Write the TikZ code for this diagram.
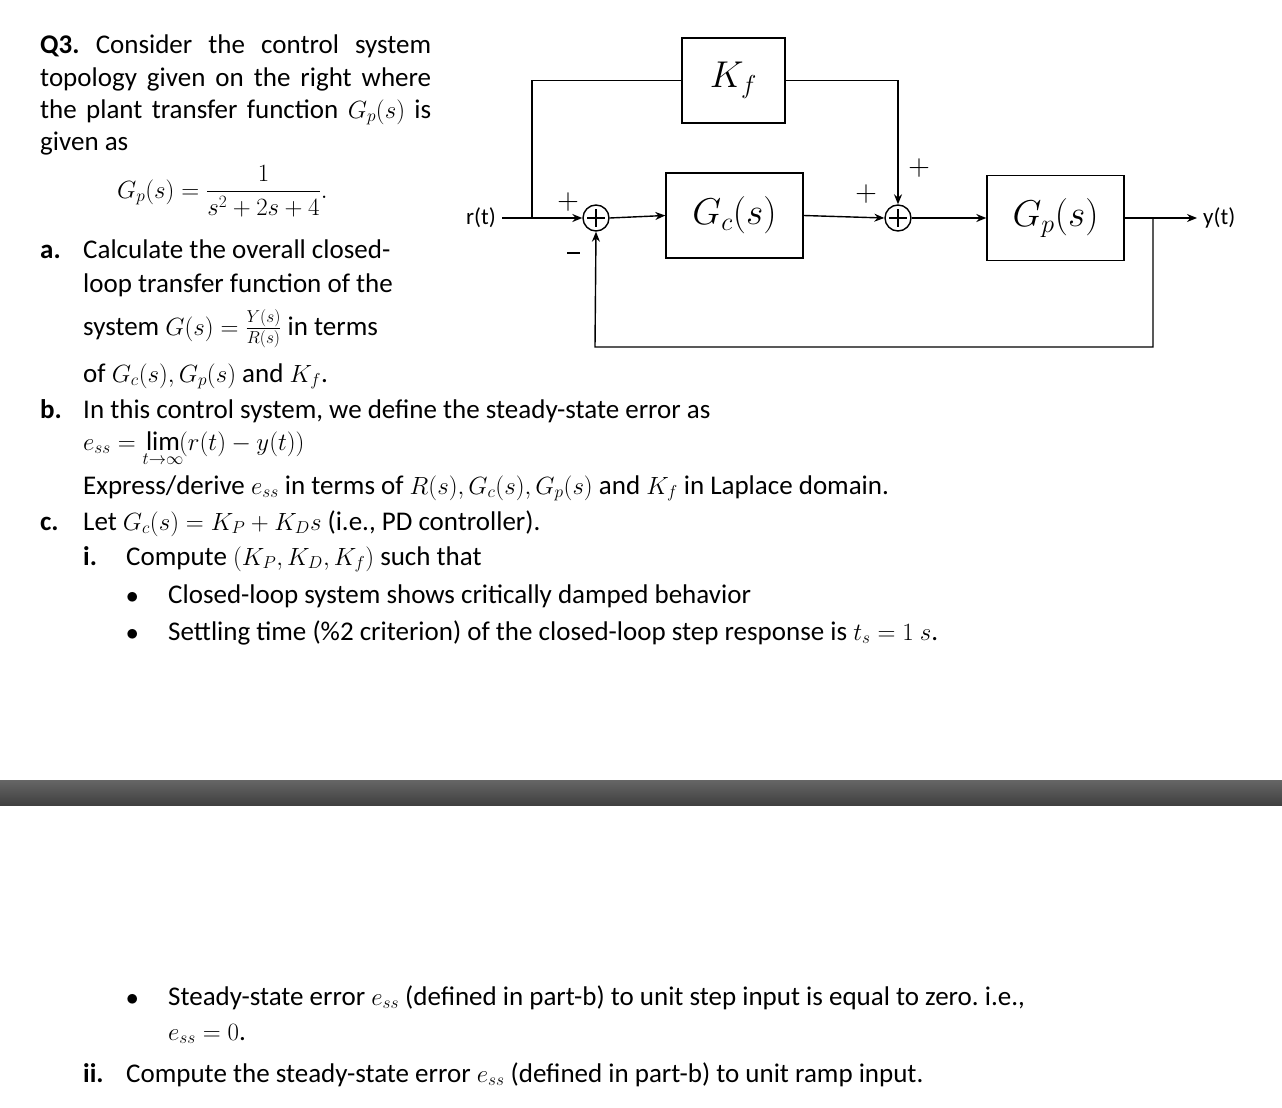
\documentclass[tikz,border=0pt]{standalone}
\usepackage{amsmath}
\usepackage{graphicx}
\usepackage{fontspec}
\setmainfont{Carlito}
\usetikzlibrary{arrows.meta}
\frenchspacing
\begin{document}
\begin{tikzpicture}[x=1pt,y=-1pt,
  blk/.style={draw,line width=1.4pt,minimum width=137pt,minimum height=85pt,inner sep=0pt,font=\fontsize{24}{26}\selectfont},
  sumc/.style={draw,circle,line width=1.4pt,minimum size=26pt,inner sep=0pt},
  wire/.style={line width=1.4pt},
  arr/.style={wire,-{Stealth[length=10pt,width=8pt]}},
  tx/.style={anchor=base west,inner sep=0pt,font=\fontsize{27}{30}\selectfont},
  sg/.style={font=\fontsize{24}{26}\selectfont,inner sep=0pt}]
\useasboundingbox (0,0) rectangle (1282,1108);
% diagram
\node[blk,minimum width=103pt] (kf) at (733.5,80.5) {\scalebox{1.5}{$K_f$}};
\node[blk] (gc) at (734.5,215.5) {\scalebox{1.5}{$G_c(s)$}};
\node[blk] (gp) at (1055.5,218) {\scalebox{1.5}{$G_p(s)$}};
\node[sumc] (s1) at (596,218) {};
\node[sumc] (s2) at (898,218) {};
\draw[line width=1.3pt] (s1.center)+(-9,0) -- +(9,0) (s1.center)+(0,-9) -- +(0,9);
\draw[line width=1.3pt] (s2.center)+(-9,0) -- +(9,0) (s2.center)+(0,-9) -- +(0,9);
\node[font=\fontsize{23}{24}\selectfont,inner sep=0pt,anchor=east] (r) at (496,218) {r(t)};
\node[font=\fontsize{23}{24}\selectfont,inner sep=0pt,anchor=west] (y) at (1203,218) {y(t)};
\coordinate (br) at (532,218);
\coordinate (bo) at (1153,218);
\coordinate (ye) at (1197,218);
\draw[arr] (r.east)+(6,0) -- (s1.west);
\draw[wire] (br) |- (kf.west);
\draw[arr] (kf.east) -| (s2.north);
\draw[arr] (s1.east) -- (gc.west);
\draw[arr] (gc.east) -- (s2.west);
\draw[arr] (s2.east) -- (gp.west);
\draw[arr] (gp.east) -- (ye);
\draw[arr] (bo) |- (595,347) -- (s1.south);
\node[sg] at (568,202) {\scalebox{1.2}{$+$}};
\draw[line width=2.2pt] (567,253) -- (580,253);
\node[sg] at (866,194) {\scalebox{1.2}{$+$}};
\node[sg] at (919,168) {\scalebox{1.2}{$+$}};
% text
\node[tx] at (40,54) {\makebox[391pt][s]{\textbf{Q3.} Consider the control system}};
\node[tx] at (40,86) {\makebox[391pt][s]{topology given on the right where}};
\node[tx] at (40,118) {\makebox[391pt][s]{the plant transfer function $G_p(s)$ is}};
\node[tx] at (40,150) {given as};
\node[tx] at (117,198) {$G_p(s)=\dfrac{1}{s^2+2s+4}.$};
\node[tx] at (40,258) {\textbf{a.}};
\node[tx] at (83,258) {Calculate the overall closed-};
\node[tx] at (83,292) {loop transfer function of the};
\node[tx] at (83,335) {system $G(s)=\frac{Y(s)}{R(s)}$ in terms};
\node[tx] at (83,382) {of $G_c(s),G_p(s)$ and $K_f$.};
\node[tx] at (40,418) {\textbf{b.}};
\node[tx] at (83,418) {In this control system, we define the steady-state error as};
\node[tx] at (83,450) {$e_{ss}=\lim\limits_{t\to\infty}\!(r(t)-y(t))$};
\node[tx] at (83,494) {Express/derive $e_{ss}$ in terms of $R(s),G_c(s),G_p(s)$ and $K_f$ in Laplace domain.};
\node[tx] at (40,530) {\textbf{c.}};
\node[tx] at (83,530) {Let $G_c(s)=K_P+K_Ds$ (i.e., PD controller).};
\node[tx] at (83,565) {\textbf{i.}};
\node[tx] at (126,565) {Compute $(K_P,K_D,K_f)$ such that};
\node[tx] at (126,603) {$\bullet$};
\node[tx] at (168,603) {Closed-loop system shows critically damped behavior};
\node[tx] at (126,640) {$\bullet$};
\node[tx] at (168,640) {Settling time (\%2 criterion) of the closed-loop step response is $t_s=1\ s$.};
\fill[top color=black!60,bottom color=black!75] (0,780) rectangle (1282,805);
\node[tx] at (126,1005) {$\bullet$};
\node[tx] at (168,1005) {Steady-state error $e_{ss}$ (defined in part-b) to unit step input is equal to zero. i.e.,};
\node[tx] at (168,1040) {$e_{ss}=0$.};
\node[tx] at (83,1082) {\textbf{ii.}};
\node[tx] at (126,1082) {Compute the steady-state error $e_{ss}$ (defined in part-b) to unit ramp input.};
\end{tikzpicture}
\end{document}
